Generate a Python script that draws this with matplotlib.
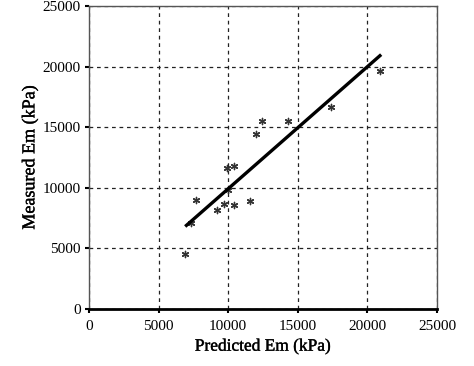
import matplotlib
matplotlib.use("Agg")
import matplotlib.pyplot as plt
import matplotlib.patheffects as pe

predicted = [6900, 7300, 7700, 9200, 9700, 9900, 10000, 10400, 10400, 11600, 12000, 12400, 14300, 17400, 20900]
measured = [4500, 7100, 9000, 8200, 8700, 11600, 9800, 11800, 8600, 8900, 14400, 15500, 15500, 16700, 19600]
fit_x = [7000, 20900]
fit_y = [6900, 20900]
ticks = [0, 5000, 10000, 15000, 20000, 25000]

plt.rcParams['font.family'] = ['Liberation Serif', 'DejaVu Serif']
fig = plt.figure(figsize=(4.74, 3.66), dpi=100)
ax = fig.add_axes([89/474, 1-309/366, (437-89)/474, (309-6)/366])

ax.set_xlim(0, 25000)
ax.set_ylim(0, 25000)
ax.set_xticks(ticks)
ax.set_yticks(ticks)
ax.grid(True, linestyle=(0, (3, 3)), color='#222222', linewidth=0.9)
ax.set_axisbelow(True)

ax.scatter(predicted, measured, marker=(6, 2, 0), s=20, color='#333333', linewidths=1.0, zorder=3)
ax.plot(fit_x, fit_y, color='black', linewidth=2.4, zorder=4)

for s in ['top', 'right', 'left']:
    ax.spines[s].set_color('#555555')
    ax.spines[s].set_linewidth(1.0)
ax.spines['bottom'].set_color('black')
ax.spines['bottom'].set_linewidth(2.0)

ax.tick_params(axis='both', labelsize=11, length=3, width=1.5, color='black')
ax.tick_params(axis='x', pad=5)
ax.tick_params(axis='y', pad=3)

heavy = [pe.withStroke(linewidth=0.25, foreground='black')]
xl = ax.set_xlabel('Predicted Em (kPa)', fontsize=12.5, labelpad=4)
yl = ax.set_ylabel('Measured Em (kPa)', fontsize=13, labelpad=3)
xl.set_path_effects(heavy)
yl.set_path_effects(heavy)

fig.savefig('out.png', dpi=100)
